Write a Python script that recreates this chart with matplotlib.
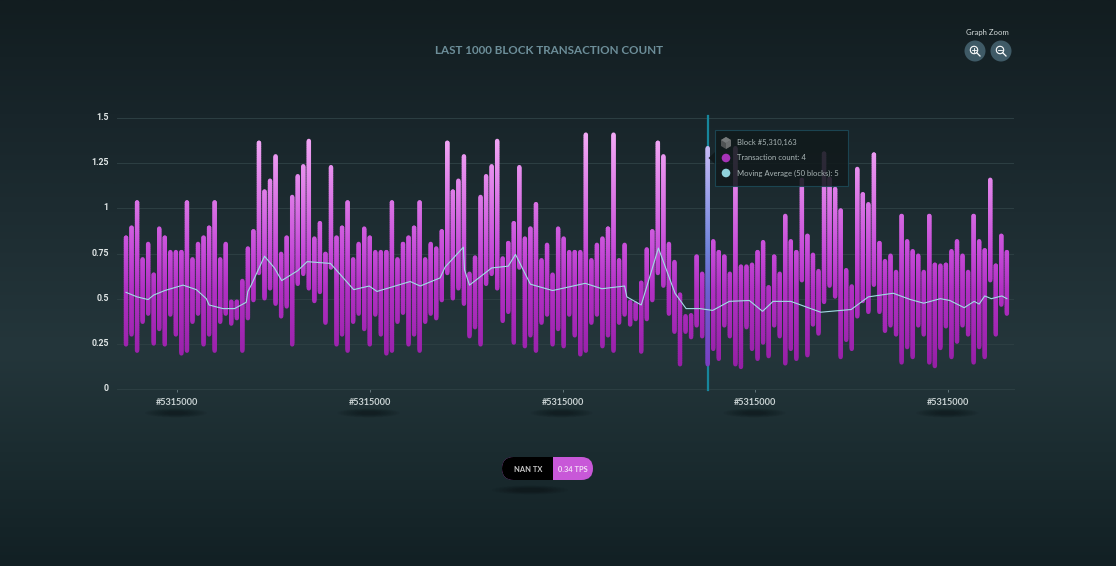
import numpy as np
import matplotlib
matplotlib.use('Agg')
import matplotlib.pyplot as plt
from matplotlib.collections import LineCollection
from matplotlib.colors import LinearSegmentedColormap
from matplotlib.patches import Circle, Ellipse, FancyBboxPatch, Polygon, Rectangle
from matplotlib.transforms import ScaledTranslation

W, H = 1116, 566
plt.rcParams['font.family'] = ['Lato', 'DejaVu Sans']

# floating bars
bar_tops = [
    .85, .905, 1.045, .73, .815, .645, .90, .85, .77, .77, .77, 1.045, .73, .815, .85, .905, 1.045, .73, .815, .495,
    .495, .61, .79, .885, 1.375, 1.105, 1.165, 1.30, .76, .85, 1.075, 1.19, 1.245, 1.385, .845, .93, .76, 1.24, .85, .905,
    1.045, .73, .815, .90, .85, .77, .77, .77, 1.045, .73, .815, .85,
    .905, 1.045, .73, .815, .79, .885, 1.375, 1.105, 1.165, 1.30, .65, .74, 1.075, 1.19, 1.245, 1.385, .735, .82, .93, 1.24,
    .845, .90, 1.035, .725, .81, .645, .90, .845, .77, .77, .77, 1.42, .725, .81, .845, .90, 1.42, .725, .81, .495,
    .485, .60, .785, .885, 1.375, 1.30, .815, .715, .535, .415, .42, .745, .65,
    1.345, .83, .77, .745, .65, 1.345, .69, .69, .70, .77, .825, .575, .745, .65, .97, .83, .77, 1.17, .86, .755, .665,
    1.315, 1.175, 1.12, 1.00, .67, .58, 1.23, 1.09, 1.035, 1.31, .82, .72, .75, .66, .97, .83, .775, .75, .66, .97,
    .70, .695, .70, .775, .83, .75, .66, .97, .83, .78, 1.17, .695, .86, .77,
]
bar_bottoms = [
    .235, .29, .20, .36, .405, .24, .32, .235, .40, .29, .185, .20, .36, .405, .235, .29, .20, .36, .405, .35,
    .38, .20, .38, .48, .63, .49, .545, .46, .39, .445, .235, .57, .625, .545, .475, .525, .355, .66, .235, .29,
    .20, .36, .405, .32, .235, .40, .29, .185, .20, .36, .41, .235,
    .29, .20, .36, .405, .38, .48, .63, .49, .545, .46, .28, .33, .235, .57, .625, .545, .365, .415, .245, .66,
    .225, .285, .20, .355, .40, .235, .32, .225, .40, .285, .18, .20, .355, .40, .225, .285, .20, .355, .40, .345,
    .375, .195, .375, .48, .63, .56, .405, .305, .125, .305, .275, .34, .28,
    .125, .21, .155, .34, .28, .125, .11, .33, .21, .155, .245, .17, .34, .28, .13, .21, .155, .59, .175, .345, .295,
    .47, .56, .50, .165, .26, .21, .39, .475, .415, .565, .415, .31, .34, .29, .135, .22, .165, .34, .29, .135,
    .115, .215, .335, .165, .25, .34, .29, .135, .22, .165, .59, .29, .455, .405,
]
ma_x = [
    0, 2, 4, 5, 7, 10.3, 12.7, 14.5, 15, 17.5, 19.6, 21.7, 22, 22.6, 25, 26.8, 28.1, 31, 32.7, 36.9, 41.1, 43.9, 45.3,
    51.3, 53.1, 56.7, 57.6, 60.9, 61.1, 62, 66, 69, 70.3, 73, 77, 82.9, 85.9, 90, 90.4, 93, 96.1, 99.1,
    101.1, 103.6, 105.9, 108.9, 112.5, 114.9, 116.8, 120, 125.4, 130.9, 134, 138.5, 141.6, 144, 147, 148.7,
    151.3, 153.1, 154, 155, 156.2, 158.1, 159,
]
ma_values = [
    .535, .51, .495, .52, .545, .575, .55, .50, .465, .445, .445, .48, .54, .575, .735, .67, .60, .655, .705, .695, .55, .57, .54,
    .595, .57, .615, .675, .785, .66, .575, .67, .68, .745, .58, .545, .585, .555, .57, .51, .465, .78, .53,
    .445, .445, .435, .485, .49, .43, .485, .485, .425, .44, .51, .53, .495, .475, .50, .49,
    .45, .485, .47, .515, .50, .515, .50,
]
y_ticks = [0, .25, .5, .75, 1, 1.25, 1.5]
y_labels = ['0', '0.25', '0.5', '0.75', '1', '1.25', '1.5']
x_ticks = [9.2, 44, 78.8, 113.6, 148.4]
x_labels = ['#5315000'] * 5
active_bar = 105

BAR_STEP = 5.54
FIRST_BAR = 126

fig = plt.figure(figsize=(W / 100, H / 100), dpi=100)

# background gradient
bg = fig.add_axes([0, 0, 1, 1], zorder=0)
bg_cmap = LinearSegmentedColormap.from_list('bg', [(0, '#121d20'), (.2, '#18252a'), (.62, '#24363b'), (.8, '#1b2c30'), (1, '#122024')])
bg.imshow(np.linspace(0, 1, 256).reshape(-1, 1), aspect='auto', cmap=bg_cmap, extent=[0, 1, 0, 1], vmin=0, vmax=1)
bg.axis('off')

# main chart, placed to the pixel
left, right, top, bottom = 117, 1014, 118, 389
ax = fig.add_axes([left / W, 1 - bottom / H, (right - left) / W, (bottom - top) / H], zorder=1)
ax.patch.set_alpha(0)
ax.set_xlim((left - FIRST_BAR) / BAR_STEP, (right - FIRST_BAR) / BAR_STEP)
ax.set_ylim(0, 1.5)

bar_cmap = LinearSegmentedColormap.from_list('bars', [(0, '#931ea3'), (.33, '#b02fc2'), (.5, '#c64bd8'), (.72, '#dc78e6'), (1, '#f5aef7')])
active_cmap = LinearSegmentedColormap.from_list('active', [(0, '#7a3cc0'), (.33, '#6c5fd0'), (.5, '#6f82da'), (.72, '#9aa0ea'), (1, '#d8c4fa')])


def bar_segments(i):
    # little pieces so the colour can follow the height, round caps stay inside the read value
    ys = np.arange(bar_bottoms[i] + .012, bar_tops[i] - .012, .01)
    ys = np.append(ys, bar_tops[i] - .012)
    return [[(i, a), (i, b)] for a, b in zip(ys[:-1], ys[1:])], (ys[:-1] + ys[1:]) / 2


segs, vals, active_segs, active_vals = [], [], [], []
for i in range(len(bar_tops)):
    s, v = bar_segments(i)
    if i == active_bar:
        active_segs += s
        active_vals += list(v)
    else:
        segs += s
        vals += list(v)

bars = LineCollection(segs, array=np.array(vals), cmap=bar_cmap, norm=plt.Normalize(.1, 1.45),
                      linewidths=3.2, capstyle='round', zorder=3)
bars.set_snap(False)
ax.add_collection(bars)
ax.axvline(active_bar, color='#17869c', lw=1.6, ymin=-.004, ymax=1.007, clip_on=False, zorder=4)
active = LineCollection(active_segs, array=np.array(active_vals), cmap=active_cmap, norm=plt.Normalize(.1, 1.45),
                        linewidths=3.2, capstyle='round', zorder=5)
active.set_snap(False)
ax.add_collection(active)
ax.plot(ma_x, ma_values, color='#a3dbe6', lw=.8, zorder=6)

ax.set_yticks(y_ticks, y_labels)
ax.set_xticks(x_ticks, x_labels)
ax.grid(axis='y', color='#2d3f43', lw=.7)
ax.set_axisbelow(True)
for side in ['top', 'right', 'left']:
    ax.spines[side].set_visible(False)
ax.spines['bottom'].set_color('#2d3f43')
ax.spines['bottom'].set_linewidth(.7)
ax.tick_params(axis='y', length=0, pad=6, labelsize=6.3, labelcolor='#dfe5e5', labelfontfamily='Roboto')
ax.tick_params(axis='x', length=2.5, width=.7, color='#62757a', pad=4, labelsize=6.6, labelcolor='#c9d2d3')
for lab in ax.get_xticklabels() + ax.get_yticklabels():
    lab.set_fontweight('bold')
for lab in ax.get_yticklabels():
    lab.set_transform(lab.get_transform() + ScaledTranslation(0, 1 / 72, fig.dpi_scale_trans))

# everything around the chart goes in pixel coordinates
ov = fig.add_axes([0, 0, 1, 1], zorder=2)
ov.set_xlim(0, W)
ov.set_ylim(H, 0)
ov.axis('off')


def soft_shadow(x, y, w, h):
    for k in np.linspace(1, .35, 8):
        ov.add_patch(Ellipse((x, y), w * k, h * k, color='#060c0e', alpha=.06, lw=0))


for tx in x_ticks:
    soft_shadow(FIRST_BAR + tx * BAR_STEP - 1, 413, 62, 9)
soft_shadow(530, 490, 76, 9)

ov.text(549, 50, 'LAST 1000 BLOCK TRANSACTION COUNT', color='#6d8e99', fontsize=8.4, fontweight='bold', ha='center', va='center')

# zoom buttons
ov.text(987, 32, 'Graph Zoom', color='#d5dcdc', fontsize=5.6, ha='center', va='center')
for cx, sign in [(975, '+'), (1001, '-')]:
    ov.add_patch(Circle((cx, 51), 10.5, color='#3f5a66', lw=0))
    ov.add_patch(Circle((cx - 1, 50), 3.7, fill=False, ec='white', lw=.8))
    ov.plot([cx + 1.7, cx + 5], [52.7, 56], color='white', lw=.9)
    ov.plot([cx - 2.8, cx + .8], [50, 50], color='white', lw=.6)
    if sign == '+':
        ov.plot([cx - 1, cx - 1], [48.2, 51.8], color='white', lw=.6)

# tooltip
ov.add_patch(Rectangle((714.5, 129.5), 133, 56, fc='#111a1c', ec='#1c4a58', lw=.8, alpha=.88))
ov.add_patch(Polygon([(715, 152), (708.5, 158), (715, 164)], fc='#111a1c', ec='none', alpha=.95))
ov.add_patch(Polygon([(726, 137), (731, 140), (731, 146), (726, 149), (721, 146), (721, 140)], fc='#4f5354', ec='none'))
ov.add_patch(Polygon([(726, 143), (731, 140), (731, 146), (726, 149)], fc='#6a6e6f', ec='none'))
ov.add_patch(Polygon([(726, 137), (731, 140), (726, 143), (721, 140)], fc='#767a7b', ec='none'))
ov.add_patch(Circle((726, 158), 4.3, color='#a733b8', lw=0))
ov.add_patch(Circle((726, 173), 4.3, color='#90d2dc', lw=0))
for ty, tip in [(142.5, 'Block #5,310,163'), (158, 'Transaction count: 4'), (173, 'Moving Average (50 blocks): 5')]:
    ov.text(737, ty, tip, color='#aab6b6', fontsize=5.5, ha='left', va='center')

# pill under the chart
pink = FancyBboxPatch((513, 468), 69, 1, boxstyle='round,pad=11,rounding_size=11.5', fc='#c858d8', ec='none')
ov.add_patch(pink)
black = FancyBboxPatch((513, 468), 69, 1, boxstyle='round,pad=11,rounding_size=11.5', fc='black', ec='none')
ov.add_patch(black)
black.set_clip_path(Rectangle((490, 450), 63, 40, transform=ov.transData))
ov.text(528, 469, 'NAN TX', color='#c8c8c8', fontsize=5.4, fontweight='bold', ha='center', va='center')
ov.text(573, 469, '0.34 TPS', color='#f3def6', fontsize=5.4, fontweight='bold', ha='center', va='center')

plt.savefig('out.png', dpi=100)
